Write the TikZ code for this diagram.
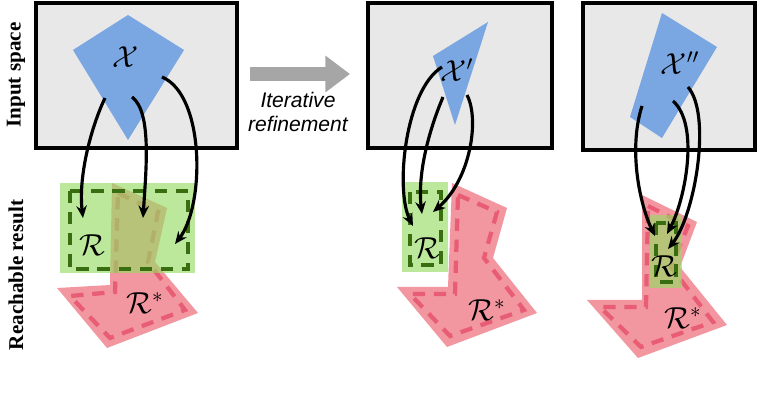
\documentclass[tikz,border=0pt]{standalone}
\usepackage{fontspec}
\newfontfamily\sansit{Liberation Sans}
\newfontfamily\serifbf{Liberation Serif}
\usetikzlibrary{arrows.meta}
\definecolor{boxgray}{RGB}{232,232,232}
\definecolor{setblue}{RGB}{122,166,226}
\definecolor{setgreen}{RGB}{150,220,100}
\definecolor{dashgreen}{RGB}{56,110,16}
\definecolor{setred}{RGB}{242,150,160}
\definecolor{dashred}{RGB}{232,92,116}
\begin{document}
\begin{tikzpicture}[x=0.02cm,y=-0.02cm,font=\LARGE,
  panel/.style={line width=2.8pt,fill=boxgray},
  inset/.style={fill=setblue},
  truth/.style={fill=setred},
  truthline/.style={dashred,line width=2.4pt,dash pattern=on 7pt off 5pt},
  approx/.style={fill=setgreen,opacity=0.65},
  approxline/.style={dashgreen,line width=2.4pt,dash pattern=on 7pt off 5pt},
  sidelabel/.style={rotate=90,font=\serifbf\bfseries\large},
  flow/.style={line width=1.8pt,-{Stealth[length=7pt,width=6pt]}}]
\useasboundingbox (0,0) rectangle (772,405);

% side labels
\node[sidelabel] (lin) at (16,75) {Input space};
\node[sidelabel] (lre) at (16,275) {Reachable result};

% left panel
\draw[panel] (36,3) rectangle (237,148);
\fill[inset] (73,50) -- (128,15) -- (184,50) -- (128,140) -- cycle;
\node (xa) at (126,57) {$\mathcal{X}$};
\fill[truth] (112,183) -- (167,208) -- (155,262) -- (198,313) -- (107,348) -- (57,288) -- (110,285) -- cycle;
\draw[truthline] (118,193) -- (158,212) -- (148,262) -- (185,310) -- (110,338) -- (70,296) -- (115,292) -- cycle;
\fill[approx] (60,183) rectangle (195,273);
\draw[approxline] (70,191) rectangle (188,269);
\node (ra) at (92,245) {$\mathcal{R}$};
\node (sa) at (145,303) {$\mathcal{R}^*$};
\coordinate (a1s) at (105,98);
\coordinate (a2s) at (132,97);
\coordinate (a3s) at (162,77);
\coordinate (a1e) at (83,218);
\coordinate (a2e) at (143,218);
\coordinate (a3e) at (175,244);
\draw[flow] (a1s) .. controls (92,125) and (78,175) .. (a1e);
\draw[flow] (a2s) .. controls (152,112) and (146,170) .. (a2e);
\draw[flow] (a3s) .. controls (205,95) and (205,205) .. (a3e);

% refinement arrow
\draw[line width=8pt,gray!70,-{Triangle[length=14pt,width=20pt]}] (250,74) -- (350,74);
\node[font=\sansit\itshape\large,align=center] (ref) at (298,112) {Iterative\\refinement};

% middle panel
\draw[panel] (368,3) rectangle (552,148);
\fill[inset] (433,56) -- (488,22) -- (455,125) -- cycle;
\node (xb) at (457,70) {$\mathcal{X}'$};
\fill[truth] (452,183) -- (507,208) -- (493,258) -- (537,313) -- (447,347) -- (397,287) -- (448,287) -- cycle;
\draw[truthline] (458,195) -- (497,212) -- (484,258) -- (524,310) -- (450,336) -- (410,294) -- (455,294) -- cycle;
\fill[approx] (402,182) rectangle (448,272);
\draw[approxline] (410,192) rectangle (441,265);
\node (rb) at (427,248) {$\mathcal{R}$};
\node (sb) at (487,310) {$\mathcal{R}^*$};
\coordinate (b1s) at (442,67);
\coordinate (b2s) at (443,97);
\coordinate (b3s) at (467,95);
\coordinate (b1e) at (413,226);
\coordinate (b2e) at (422,214);
\coordinate (b3e) at (433,212);
\draw[flow] (b1s) .. controls (405,90) and (395,190) .. (b1e);
\draw[flow] (b2s) .. controls (425,140) and (418,180) .. (b2e);
\draw[flow] (b3s) .. controls (480,120) and (470,180) .. (b3e);

% right panel
\draw[panel] (583,3) rectangle (755,150);
\fill[inset] (662,13) -- (717,47) -- (662,138) -- (630,117) -- cycle;
\node (xc) at (680,63) {$\mathcal{X}''$};
\fill[truth] (642,195) -- (697,222) -- (680,267) -- (727,325) -- (638,358) -- (587,300) -- (642,300) -- cycle;
\draw[truthline] (648,206) -- (688,226) -- (671,267) -- (713,322) -- (641,347) -- (600,307) -- (646,307) -- cycle;
\fill[approx] (650,215) rectangle (682,288);
\draw[approxline] (656,223) rectangle (676,282);
\node (rc) at (664,266) {$\mathcal{R}$};
\node (sc) at (683,318) {$\mathcal{R}^*$};
\coordinate (c1s) at (642,106);
\coordinate (c2s) at (673,101);
\coordinate (c3s) at (688,87);
\coordinate (c1e) at (655,236);
\coordinate (c2e) at (667,234);
\coordinate (c3e) at (668,249);
\draw[flow] (c1s) .. controls (628,150) and (640,205) .. (c1e);
\draw[flow] (c2s) .. controls (700,125) and (685,200) .. (c2e);
\draw[flow] (c3s) .. controls (712,115) and (695,215) .. (c3e);
\end{tikzpicture}
\end{document}
